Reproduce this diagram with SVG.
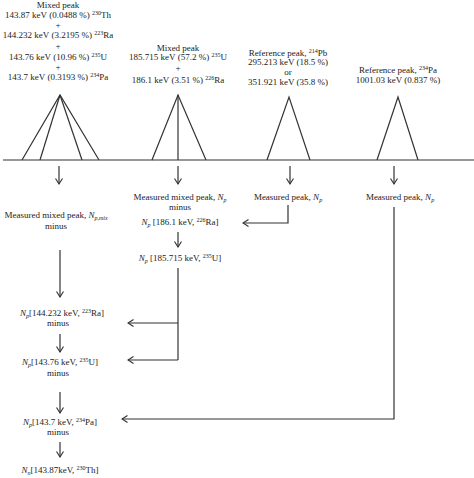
<svg xmlns="http://www.w3.org/2000/svg" width="474" height="478" viewBox="0 0 474 478">
<defs>
<style>
text{font-family:"Liberation Serif","Times New Roman",serif;font-size:9px;fill:#222;text-anchor:middle}
.sup{font-size:6px}
.it{font-style:italic}
.ln{stroke:#333;stroke-width:1.2;fill:none}
.ar{stroke:#333;stroke-width:1.2;fill:none;marker-end:url(#ah)}
</style>
<marker id="ah" viewBox="-6 -4 7 8" refX="0" refY="0" markerWidth="7" markerHeight="8" markerUnits="userSpaceOnUse" orient="auto">
<path d="M-5.5,-3.5 L0,0 L-5.5,3.5" fill="none" stroke="#333" stroke-width="1.1"/>
</marker>
</defs>
<rect width="474" height="478" fill="#fff"/>

<g id="peaks">
<line class="ln" x1="3" y1="160" x2="474" y2="160"/>
<polyline class="ln" points="22,160 60,95 99,160"/>
<line class="ln" x1="60" y1="95" x2="40" y2="160"/>
<line class="ln" x1="60" y1="95" x2="82" y2="160"/>
<polyline class="ln" points="152,160 178,95 206,160"/>
<line class="ln" x1="178" y1="95" x2="178" y2="160"/>
<polyline class="ln" points="267,160 289,97 310,160"/>
<polyline class="ln" points="377,160 398,97 418,160"/>
</g>

<g id="label-mixed1">
<text x="58" y="8">Mixed peak</text>
<text x="58" y="18">143.87 keV (0.0488 %) <tspan class="sup" dy="-3">230</tspan><tspan dy="3">Th</tspan></text>
<text x="58" y="28">+</text>
<text x="58" y="38">144.232 keV (3.2195 %) <tspan class="sup" dy="-3">223</tspan><tspan dy="3">Ra</tspan></text>
<text x="58" y="49">+</text>
<text x="58" y="60">143.76 keV (10.96 %) <tspan class="sup" dy="-3">235</tspan><tspan dy="3">U</tspan></text>
<text x="58" y="70">+</text>
<text x="58" y="80">143.7 keV (0.3193 %) <tspan class="sup" dy="-3">234</tspan><tspan dy="3">Pa</tspan></text>
</g>

<g id="label-mixed2">
<text x="178" y="51">Mixed peak</text>
<text x="178" y="60">185.715 keV (57.2 %) <tspan class="sup" dy="-3">235</tspan><tspan dy="3">U</tspan></text>
<text x="178" y="71">+</text>
<text x="178" y="83">186.1 keV (3.51 %) <tspan class="sup" dy="-3">226</tspan><tspan dy="3">Ra</tspan></text>
</g>

<g id="label-ref1">
<text x="288" y="56">Reference peak, <tspan class="sup" dy="-3">214</tspan><tspan dy="3">Pb</tspan></text>
<text x="288" y="65">295.213 keV (18.5 %)</text>
<text x="288" y="75">or</text>
<text x="288" y="85">351.921 keV (35.8 %)</text>
</g>

<g id="label-ref2">
<text x="398" y="73">Reference peak, <tspan class="sup" dy="-3">234</tspan><tspan dy="3">Pa</tspan></text>
<text x="398" y="83">1001.03 keV (0.837 %)</text>
</g>

<g id="node-left-measured">
<text x="56" y="218">Measured mixed  peak, <tspan class="it">N</tspan><tspan class="sup it" dy="2">p,mix</tspan></text>
<text x="56" y="229">minus</text>
</g>

<g id="node-mid-measured">
<text x="180" y="200">Measured mixed peak, <tspan class="it">N</tspan><tspan class="sup it" dy="2">p</tspan></text>
<text x="180" y="210">minus</text>
<text x="180" y="225"><tspan class="it">N</tspan><tspan class="sup it" dy="2">p</tspan><tspan dy="-2"> [186.1 keV, </tspan><tspan class="sup" dy="-3">226</tspan><tspan dy="3">Ra]</tspan></text>
</g>

<g id="node-mid-u">
<text x="180" y="261"><tspan class="it">N</tspan><tspan class="sup it" dy="2">p</tspan><tspan dy="-2"> [185.715 keV, </tspan><tspan class="sup" dy="-3">235</tspan><tspan dy="3">U]</tspan></text>
</g>

<g id="node-ref1-measured">
<text x="288" y="200">Measured peak, <tspan class="it">N</tspan><tspan class="sup it" dy="2">p</tspan></text>
</g>

<g id="node-ref2-measured">
<text x="400" y="200">Measured peak, <tspan class="it">N</tspan><tspan class="sup it" dy="2">p</tspan></text>
</g>

<g id="node-ra223">
<text x="62" y="316"><tspan class="it">N</tspan><tspan class="sup it" dy="2">p</tspan><tspan dy="-2">[144.232 keV, </tspan><tspan class="sup" dy="-3">223</tspan><tspan dy="3">Ra]</tspan></text>
<text x="58" y="326">minus</text>
</g>

<g id="node-u235">
<text x="60" y="365"><tspan class="it">N</tspan><tspan class="sup it" dy="2">p</tspan><tspan dy="-2">[143.76 keV, </tspan><tspan class="sup" dy="-3">235</tspan><tspan dy="3">U]</tspan></text>
<text x="58" y="376">minus</text>
</g>

<g id="node-pa234">
<text x="60" y="425"><tspan class="it">N</tspan><tspan class="sup it" dy="2">p</tspan><tspan dy="-2">[143.7 keV, </tspan><tspan class="sup" dy="-3">234</tspan><tspan dy="3">Pa]</tspan></text>
<text x="58" y="435">minus</text>
</g>

<g id="node-th230">
<text x="60" y="473"><tspan class="it">N</tspan><tspan class="sup it" dy="2">n</tspan><tspan dy="-2">[143.87keV, </tspan><tspan class="sup" dy="-3">230</tspan><tspan dy="3">Th]</tspan></text>
</g>

<g id="connectors">
<line class="ar" x1="59" y1="166" x2="59" y2="184"/>
<line class="ar" x1="178" y1="166" x2="178" y2="184"/>
<line class="ar" x1="290" y1="166" x2="290" y2="184"/>
<line class="ar" x1="394" y1="166" x2="394" y2="184"/>
<line class="ar" x1="178" y1="232" x2="178" y2="247"/>
<line class="ar" x1="60" y1="250" x2="60" y2="297"/>
<line class="ar" x1="60" y1="334" x2="60" y2="352"/>
<line class="ar" x1="60" y1="392" x2="60" y2="413"/>
<line class="ar" x1="60" y1="442" x2="60" y2="457"/>
<polyline class="ar" points="288,205 288,223 243,223"/>
<line class="ln" x1="178" y1="268" x2="178" y2="360"/>
<line class="ar" x1="178" y1="323" x2="128" y2="323"/>
<polyline class="ar" points="178,360 128,360"/>
<polyline class="ar" points="394,207 394,419 122,419"/>
</g>
</svg>
